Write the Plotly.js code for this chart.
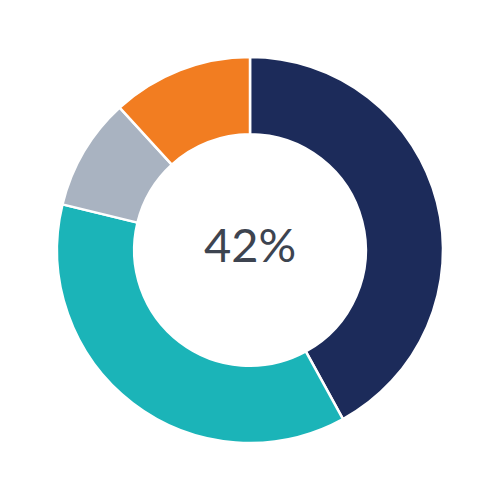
<!DOCTYPE html>
<html>
<head>
<meta charset="utf-8">
<script src="https://cdn.plot.ly/plotly-3.0.1.min.js"></script>
<style>
  html, body { margin: 0; padding: 0; background: #fff; }
  #chart { width: 500px; height: 500px; }
</style>
</head>
<body>
<div id="chart"></div>
<script>
// slice order runs clockwise from 12 o'clock
const segments = ["Navy", "Teal", "Gray", "Orange"];
const shares = [42, 36.8, 9.4, 11.8];
const colors = ["#1c2b5a", "#1bb4b8", "#a9b3c1", "#f27d21"];
const centerLabel = "42%";

const data = [{
  type: "pie",
  labels: segments,
  values: shares,
  hole: 0.6,
  sort: false,
  direction: "clockwise",
  rotation: 0,
  textinfo: "none",
  hoverinfo: "none",
  marker: {
    colors: colors,
    line: { color: "#fff", width: 2.5 },
  },
}];

const layout = {
  width: 500,
  height: 500,
  showlegend: false,
  margin: { l: 57, r: 57, t: 57, b: 57 },
  paper_bgcolor: "#fff",
  annotations: [{
    text: centerLabel,
    x: 0.5,
    y: 0.5,
    xref: "paper",
    yref: "paper",
    yshift: 6,
    showarrow: false,
    font: { family: "Lato, sans-serif", size: 47, color: "#3d4450" },
  }],
};

Plotly.newPlot("chart", data, layout, { displayModeBar: false, staticPlot: true });
</script>
</body>
</html>
